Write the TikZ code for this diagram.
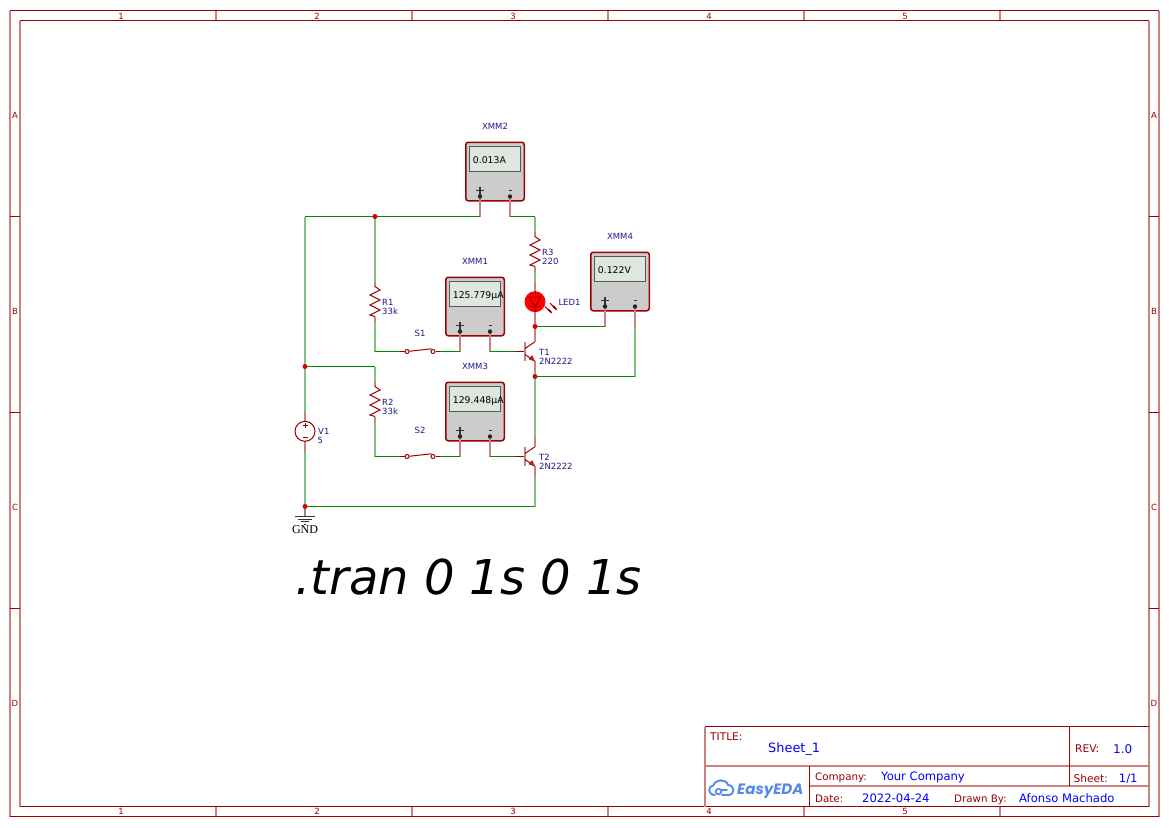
\documentclass[tikz,border=0pt]{standalone}
\usepackage{fontspec}
\setmainfont{DejaVu Sans}
\newfontfamily\gndfont{Liberation Serif}
\newfontfamily\logofont{Poppins}
\definecolor{sheetred}{HTML}{990000}
\definecolor{palered}{HTML}{CC8080}
\definecolor{wiregreen}{HTML}{008800}
\definecolor{palegreen}{HTML}{80C380}
\definecolor{labelblue}{HTML}{1A1A8C}
\definecolor{titleblue}{HTML}{0000FF}
\definecolor{logoblue}{HTML}{5588EE}
\definecolor{meterfill}{HTML}{CCCCCC}
\definecolor{dispfill}{HTML}{DDE7DD}
\newcommand{\fsz}[1]{\fontsize{#1}{#1}\selectfont}
\tikzset{
  x=1pt,y=-1pt,
  framel/.style={draw=sheetred,line width=1pt},
  framev/.style={draw=palered,line width=1.15pt},
  wire/.style={draw=wiregreen,line width=1pt},
  wirev/.style={draw=palegreen,line width=1.15pt},
  sym/.style={draw=sheetred,line width=1pt},
  pinl/.style={draw=palered,line width=1.15pt},
  jdot/.style={circle,fill=red!85!black,inner sep=0pt,minimum size=5pt},
  pindot/.style={circle,fill=black!85,inner sep=0pt,minimum size=4.4pt},
  lab/.style={text=labelblue,inner sep=0pt,anchor=base west,font=\fsz{8.5}},
  labc/.style={text=labelblue,inner sep=0pt,anchor=base,font=\fsz{8.5}},
  marktxt/.style={text=sheetred,inner sep=0pt,anchor=base,font=\fsz{8.5}},
  tbred/.style={text=sheetred,inner sep=0pt,anchor=base west,font=\fsz{10.3}},
  tbblue/.style={text=titleblue,inner sep=0pt,anchor=base west,font=\fsz{11.6}},
  meterbox/.style={draw=sheetred,fill=meterfill,line width=1.5pt,rounded corners=2.5pt,minimum width=58.5pt,minimum height=58.5pt,inner sep=0pt},
  dispbox/.style={draw=black!65,fill=dispfill,line width=1.4pt,minimum width=51pt,minimum height=25.4pt,inner sep=0pt},
}
% name, cx, cy, label, value
\newcommand{\meterinst}[5]{%
  \begin{scope}[shift={(#2,#3)}]
    \node[meterbox] (#1) at (0,0) {};
    \node[dispbox] (#1d) at (0,-12.5) {};
    \node[text=black,inner sep=0pt,anchor=base west,font=\fsz{9.3}] (#1v) at (-22.3,-8.5) {#5};
    \node[labc] (#1l) at (0,-42) {#4};
    \draw[draw=black!80,line width=1.1pt] (-19,19) -- (-11,19) (-15,15) -- (-15,25);
    \draw[draw=black!80,line width=1pt] (13.5,19) -- (16.5,19);
    \coordinate (#1p) at (-15,25); \coordinate (#1pe) at (-15,45);
    \coordinate (#1m) at (15,25); \coordinate (#1me) at (15,45);
    \draw[pinl] (#1p) -- (#1pe);
    \draw[pinl] (#1m) -- (#1me);
    \node[pindot] (#1pd) at (#1p) {};
    \node[pindot] (#1md) at (#1m) {};
  \end{scope}}
% name, x, ycenter, t1, t2
\newcommand{\resist}[5]{%
  \begin{scope}[shift={(#2,#3)}]
    \coordinate (#1a) at (0,-20); \coordinate (#1b) at (0,20);
    \draw[pinl] (#1a) -- (0,-15);
    \draw[pinl] (0,15) -- (#1b);
    \draw[sym] (0,-15) -- (5,-11.5) -- (-5,-6.5) -- (5,-1.5) -- (-5,3.5) -- (5,8.5) -- (-5,13.5) -- (0,15);
    \node[lab] (#1t) at (7,3.6) {#4};
    \node[lab] (#1u) at (7,12.5) {#5};
  \end{scope}}
% name, y, label y
\newcommand{\switchinst}[3]{%
  \begin{scope}[shift={(420,#2)}]
    \coordinate (#1a) at (-20,0); \coordinate (#1b) at (20,0);
    \node[circle,draw=sheetred,fill=white,line width=1pt,inner sep=0pt,minimum size=4pt] (#1c) at (-13,0) {};
    \node[circle,draw=sheetred,fill=white,line width=1pt,inner sep=0pt,minimum size=4pt] (#1d) at (13,0) {};
    \draw[sym] (#1a) -- (#1c);
    \draw[sym] (#1d) -- (#1b);
    \draw[sym] (#1c) -- (11.5,-2.7);
    \node[labc] (#1l) at (0,#3) {#1};
  \end{scope}}
% name, base y
\newcommand{\transist}[2]{%
  \begin{scope}[shift={(535,#2)}]
    \coordinate (#1b) at (-20,0); \coordinate (#1c) at (0,-20); \coordinate (#1e) at (0,20);
    \draw[sym] (#1b) -- (-10,0);
    \draw[pinl] (-10,-9.8) -- (-10,9.2);
    \draw[sym] (-10,-3) -- (0,-9.8);
    \draw[pinl] (0,-9.8) -- (#1c);
    \draw[sym] (-10,3) -- (0,9.8);
    \draw[pinl] (0,9.8) -- (#1e);
    \fill[sheetred!85!white] (0,10) -- (-6.5,7.8) -- (-2.8,3.5) -- cycle;
    \node[lab] (#1l) at (4,3.6) {#1};
    \node[lab] (#1t) at (4,12.5) {2N2222};
  \end{scope}}
\begin{document}
\begin{tikzpicture}
\useasboundingbox (0,0) rectangle (1169,827);
\fill[white] (0,0) rectangle (1169,827);
% sheet frame
\foreach \xx in {10,20,1149,1159} {
  \pgfmathsetmacro{\ya}{(\xx==20 || \xx==1149) ? 20.5 : 10.5}
  \pgfmathsetmacro{\yb}{(\xx==20 || \xx==1149) ? 806.5 : 816.5}
  \draw[framev] (\xx,\ya) -- (\xx,\yb);
}
\draw[framel] (10,10.5) -- (1159,10.5);
\draw[framel] (20,20.5) -- (1149,20.5);
\draw[framel] (20,806.5) -- (1149,806.5);
\draw[framel] (10,816.5) -- (1159,816.5);
\foreach \xx in {216,412,608,804,1000} {
  \draw[framev] (\xx,11) -- (\xx,20);
  \draw[framev] (\xx,807) -- (\xx,816);
}
\foreach \yy in {216.5,412.5,608.5} {
  \draw[framel] (10,\yy) -- (20,\yy);
  \draw[framel] (1149,\yy) -- (1159,\yy);
}
\foreach \xx/\lbl in {121/1,317/2,513/3,709/4,905/5} {
  \node[marktxt] at (\xx,19.3) {\lbl};
  \node[marktxt] at (\xx,814.8) {\lbl};
}
\foreach \yy/\lbl in {118/A,314/B,510/C,706/D} {
  \node[marktxt] at (15,\yy) {\lbl};
  \node[marktxt] at (1154,\yy) {\lbl};
}
% title block
\draw[framev] (705,726.5) -- (705,806.5);
\draw[framel] (705,726.5) -- (1149,726.5);
\draw[framev] (705,766) -- (1149,766);
\draw[framev] (809.5,786) -- (1149,786);
\draw[framel] (1069.5,726.5) -- (1069.5,786);
\draw[framel] (809.5,766) -- (809.5,806.5);
\node[tbred,font=\fsz{10.6}] (ttitle) at (710,740) {TITLE:};
\node[tbblue,font=\fsz{12.9}] (tsheet) at (768,752.5) {Sheet\_1};
\node[tbred,font=\fsz{10.6}] (trev) at (1075,752.5) {REV:};
\node[tbblue,font=\fsz{12}] (trevv) at (1113,753) {1.0};
\node[tbred] (tcomp) at (815,780) {Company:};
\node[tbblue] (tcompv) at (881,780) {Your Company};
\node[tbred,font=\fsz{10.6}] (tsh) at (1073.5,782) {Sheet:};
\node[tbblue] (tshv) at (1118.7,782) {1/1};
\node[tbred] (tdate) at (815,802) {Date:};
\node[tbblue] (tdatev) at (862,802) {2022-04-24};
\node[tbred] (tdraw) at (954,802) {Drawn By:};
\node[tbblue] (tdrawv) at (1019,802) {Afonso Machado};
% logo
\draw[logoblue,line width=1.9pt,line cap=round,line join=round]
  (715,795) .. controls (708,795) and (707,786.5) .. (713.5,785.5)
  .. controls (715,779) and (726,778.5) .. (728,785)
  .. controls (735,785) and (735.5,795) .. (728,795) -- (722,795);
\draw[logoblue,line width=1.7pt] (718.5,791.5) circle [radius=2.8];
\draw[logoblue,line width=1.7pt,line cap=round] (721,790) -- (727,790);
\node[text=logoblue,inner sep=0pt,anchor=base west,font=\logofont\bfseries\itshape\fsz{15}] (logot) at (737,794.5) {EasyEDA};
% junction coordinates
\coordinate (ctl) at (305,216.5);
\coordinate (j1) at (375,216.5);
\coordinate (j2) at (305,366.5);
\coordinate (j3) at (305,506.5);
\coordinate (j4) at (535,326.5);
\coordinate (j5) at (535,376.5);
\coordinate (c1) at (375,366.5);
\coordinate (c2) at (535,216.5);
\coordinate (c3) at (605,326.5);
\coordinate (c4) at (635,376.5);
\coordinate (c5) at (535,506.5);
\coordinate (c6) at (375,351.5);
\coordinate (c7) at (375,456.5);
% vertical wires first
\draw[wirev] (ctl) -- (305,411.5);
\draw[wirev] (305,451.5) -- (j3);
\draw[wirev] (c2) -- (535,231.5);
\draw[wirev] (535,271.5) -- (535,281.5);
\draw[wirev] (j1) -- (375,281.5);
\draw[wirev] (375,321.5) -- (c6);
\draw[wirev] (c1) -- (375,381.5);
\draw[wirev] (375,421.5) -- (c7);
\draw[wirev] (c4) -- (635,326.5);
\draw[wirev] (535,371.5) -- (535,436.5);
\draw[wirev] (535,476.5) -- (c5);
% symbols
\meterinst{XMM2}{495}{171.5}{XMM2}{0.013A}
\meterinst{XMM1}{475}{306.5}{XMM1}{125.779µA}
\meterinst{XMM3}{475}{411.5}{XMM3}{129.448µA}
\meterinst{XMM4}{620}{281.5}{XMM4}{0.122V}
\resist{R3}{535}{251.5}{R3}{220}
\resist{R1}{375}{301.5}{R1}{33k}
\resist{R2}{375}{401.5}{R2}{33k}
\switchinst{S1}{351.5}{-15.5}
\switchinst{S2}{456.5}{-23.5}
\transist{T1}{351.5}
\transist{T2}{456.5}
% LED
\coordinate (LEDa) at (535,281.5);
\coordinate (LEDb) at (535,331.5);
\draw[pinl] (LEDa) -- (LEDb);
\node[circle,fill=red,inner sep=0pt,minimum size=21pt] (LED) at (535,301.7) {};
\draw[sym] (529,297) -- (541,297) -- (535,306.5) -- cycle;
\draw[sym] (529,306.5) -- (541,306.5);
\draw[sym] (535,291) -- (535,297);
\draw[sym] (535,306.5) -- (535,312);
\draw[sym] (545,306.7) -- (552,313);
\draw[sym,line width=1.8pt] (548,309.4) -- (551,312);
\draw[sym] (550,303) -- (556.7,310);
\draw[sym,line width=1.8pt] (553,306) -- (556,309);
\node[lab] (LEDl) at (558.3,305) {LED1};
% source
\coordinate (V1a) at (305,411.5);
\coordinate (V1b) at (305,451.5);
\draw[pinl] (V1a) -- (V1b);
\node[circle,draw=sheetred,fill=white,line width=1pt,inner sep=0pt,minimum size=20pt] (V1) at (305,431.3) {};
\draw[sym,line width=.8pt] (302.5,425.5) -- (307.5,425.5) (305,423) -- (305,428);
\draw[sym,line width=.8pt] (302.5,437.5) -- (307.5,437.5);
\node[lab] (V1l) at (318,434.3) {V1};
\node[lab] (V1v) at (317.3,443.7) {5};
% ground
\coordinate (G) at (305,516.5);
\draw[draw=black!45,line width=1.15pt] (j3) -- (G);
\draw[draw=black!80,line width=1pt] (295,516.5) -- (315,516.5) (298,519) -- (312,519) (301,521.5) -- (309,521.5) (304,524) -- (306,524);
\node[text=black,inner sep=0pt,anchor=base,font=\gndfont\fsz{12}] (GND) at (305,533) {GND};
% horizontal wires
\draw[wire] (XMM2pe) -- (ctl);
\draw[wire] (XMM2me) -- (c2);
\draw[wire] (c6) -- (S1a);
\draw[wire] (S1b) -- (XMM1pe);
\draw[wire] (XMM1me) -- (T1b);
\draw[wire] (j2) -- (c1);
\draw[wire] (c7) -- (S2a);
\draw[wire] (S2b) -- (XMM3pe);
\draw[wire] (XMM3me) -- (T2b);
\draw[wire] (j4) -- (c3);
\draw[wire] (j5) -- (c4);
\draw[wire] (c5) -- (j3);
% junctions
\foreach \jj in {j1,j2,j3,j4,j5} { \node[jdot] (d\jj) at (\jj) {}; }
\node[text=black,inner sep=0pt,anchor=base west,font=\itshape\fsz{48}] (cmd) at (295,594) {.tran 0 1s 0 1s};
\end{tikzpicture}
\end{document}
